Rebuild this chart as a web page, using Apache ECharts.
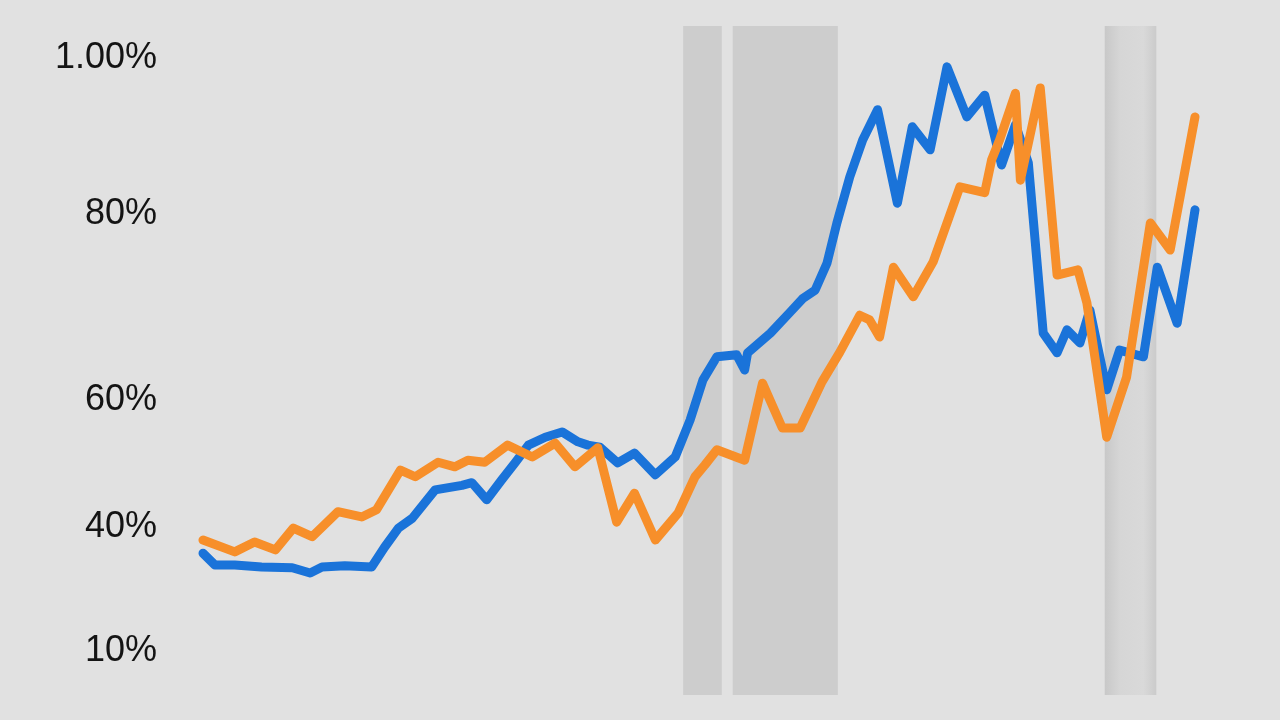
<!DOCTYPE html>
<html>
<head>
<meta charset="utf-8">
<script src="https://cdn.jsdelivr.net/npm/echarts@6/dist/echarts.min.js"></script>
<style>
  html, body { margin: 0; padding: 0; background: #e1e1e1; }
  #chart { width: 1280px; height: 720px; }
</style>
</head>
<body>
<div id="chart"></div>
<script>
// Y-axis tick labels and where they sit on the value scale
const tickValues = [9.6, 28.4, 47.7, 75.8, 99.6];
const tickLabels = ['10%', '40%', '60%', '80%', '1.00%'];

// Shaded periods (x range on the period scale)
const bandStarts = [48.4, 53.4, 90.9];
const bandEnds = [52.3, 64.0, 96.1];

// Blue series
const bluePeriods = [0, 1.2, 3.2, 5.9, 9.0, 10.8, 12.0, 14.3, 17.0, 18.3, 19.7, 21.1, 23.4, 26.1, 27.1, 28.6, 30.1, 31.5, 32.8, 34.5, 36.2, 37.8, 38.8, 40.0, 41.8, 43.5, 45.6, 47.6, 49.1, 50.4, 51.8, 53.8, 54.6, 54.9, 57.2, 59.2, 60.5, 61.7, 62.9, 63.9, 65.2, 66.5, 68.0, 70.0, 71.5, 73.3, 75.0, 77.0, 78.8, 80.5, 81.9, 83.2, 84.7, 86.1, 87.1, 88.4, 89.4, 91.1, 92.4, 94.8, 96.2, 98.2, 100];
const blueValues = [24.4, 22.6, 22.6, 22.3, 22.2, 21.4, 22.3, 22.5, 22.3, 25.3, 28.2, 29.7, 34.0, 34.7, 35.1, 32.5, 35.5, 38.2, 40.8, 42.0, 42.8, 41.3, 40.8, 40.5, 38.1, 39.6, 36.3, 39.0, 44.6, 50.7, 54.2, 54.5, 52.2, 54.8, 57.8, 61.0, 63.1, 64.3, 68.4, 74.5, 81.5, 87.1, 91.7, 77.5, 89.1, 85.6, 98.2, 90.6, 93.9, 83.3, 89.4, 83.6, 57.8, 54.8, 58.3, 56.3, 61.3, 49.2, 55.2, 54.2, 67.8, 59.3, 76.5];

// Orange series
const orangePeriods = [0, 3.2, 5.2, 7.3, 9.1, 11.0, 13.6, 16.0, 17.5, 19.9, 21.4, 23.7, 25.4, 26.7, 28.4, 30.7, 33.2, 35.5, 37.5, 39.8, 41.7, 43.5, 45.6, 47.9, 49.6, 50.6, 51.8, 54.6, 56.4, 58.4, 60.2, 62.4, 64.2, 66.2, 67.2, 68.2, 69.6, 71.6, 73.6, 76.3, 78.8, 79.5, 80.3, 81.9, 82.4, 84.4, 86.1, 88.2, 89.1, 91.1, 93.1, 95.5, 97.5, 100];
const orangeValues = [26.4, 24.6, 26.1, 24.9, 28.2, 26.9, 30.7, 29.9, 31.0, 37.0, 36.0, 38.2, 37.5, 38.5, 38.2, 40.8, 39.0, 41.1, 37.5, 40.4, 29.1, 33.5, 26.4, 30.5, 36.0, 37.8, 40.1, 38.5, 50.2, 43.4, 43.4, 50.4, 54.9, 60.5, 59.8, 57.2, 67.8, 63.3, 68.6, 80.0, 79.1, 84.1, 87.1, 94.2, 81.0, 95.0, 66.6, 67.4, 62.4, 42.0, 51.1, 74.5, 70.4, 90.6];

const zip = (xs, ys) => xs.map((x, i) => [x, ys[i]]);

const bandFills = [
  '#cdcdcd',
  '#cdcdcd',
  { type: 'linear', x: 0, y: 0, x2: 1, y2: 0, colorStops: [
      { offset: 0, color: '#c8c8c8' },
      { offset: 0.3, color: '#d6d6d6' },
      { offset: 0.75, color: '#d9d9d9' },
      { offset: 1, color: '#cbcbcb' }
  ] }
];

const chart = echarts.init(document.getElementById('chart'));
chart.setOption({
  backgroundColor: '#e1e1e1',
  animation: false,
  grid: { left: 203, right: 85, top: 22, bottom: 6 },
  xAxis: {
    type: 'value', min: 0, max: 100,
    show: false
  },
  yAxis: {
    type: 'value', min: 0, max: 105,
    axisLine: { show: false },
    axisTick: { show: false },
    splitLine: { show: false },
    axisLabel: {
      customValues: tickValues,
      formatter: function (v) {
        let best = 0;
        for (let i = 1; i < tickValues.length; i++) {
          if (Math.abs(tickValues[i] - v) < Math.abs(tickValues[best] - v)) best = i;
        }
        return tickLabels[best];
      },
      margin: 46,
      fontSize: 36,
      fontFamily: 'Liberation Sans, Arial, sans-serif',
      color: '#141414'
    }
  },
  series: [
    {
      type: 'line',
      data: [],
      z: 1,
      silent: true,
      markArea: {
        silent: true,
        data: bandStarts.map((s, i) => [
          { xAxis: s, yAxis: 2.9, itemStyle: { color: bandFills[i] } },
          { xAxis: bandEnds[i], yAxis: 104.4 }
        ])
      }
    },
    {
      type: 'line',
      data: zip(bluePeriods, blueValues),
      z: 3,
      symbol: 'none',
      lineStyle: { color: '#1a73d9', width: 9, join: 'round', cap: 'round' }
    },
    {
      type: 'line',
      data: zip(orangePeriods, orangeValues),
      z: 4,
      symbol: 'none',
      lineStyle: { color: '#f78f2a', width: 9, join: 'round', cap: 'round' }
    }
  ]
});
</script>
</body>
</html>
